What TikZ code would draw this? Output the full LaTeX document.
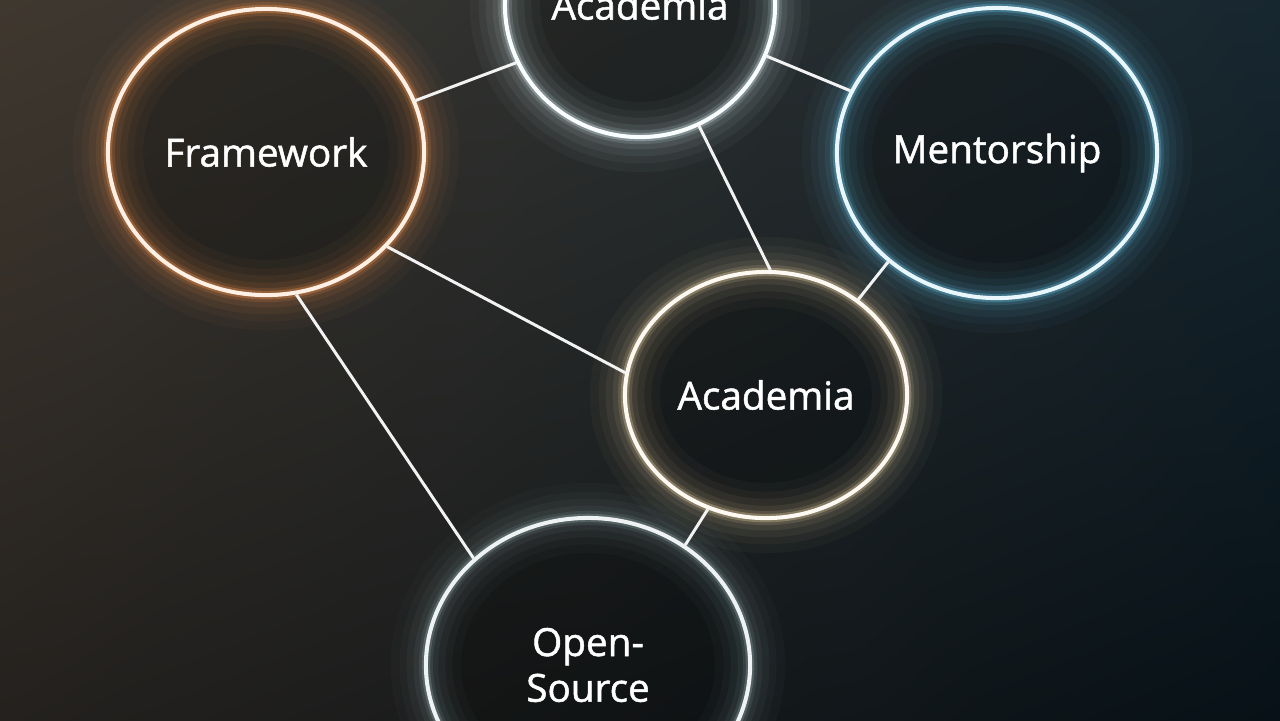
\documentclass[tikz,border=0pt]{standalone}
\usepackage{fontspec}
\setmainfont{Open Sans}
\newfontfamily\labelfont{Open Sans}[FakeBold=1.3]
\usetikzlibrary{shapes.geometric,shadings}

\definecolor{bgUL}{HTML}{40382F}
\definecolor{bgUR}{HTML}{172730}
\definecolor{bgLL}{HTML}{24211E}
\definecolor{bgLR}{HTML}{071117}
\definecolor{fwglow}{HTML}{FF9A52}
\definecolor{topglow}{HTML}{DDF2F5}
\definecolor{mentglow}{HTML}{6CC8EC}
\definecolor{midglow}{HTML}{F0D6A8}
\definecolor{osglow}{HTML}{8FA8AA}

\begin{document}
\begin{tikzpicture}
      [x=0.01cm, y=-0.01cm,
      glow/.style={preaction={fill=black, fill opacity=0.22},
        preaction={draw=#1, draw opacity=0.035, line width=20pt},
        preaction={draw=#1, draw opacity=0.045, line width=15pt},
        preaction={draw=#1, draw opacity=0.06, line width=11pt},
        preaction={draw=#1, draw opacity=0.08, line width=7pt},
        preaction={draw=#1, draw opacity=0.14, line width=4pt},
        preaction={draw=#1, draw opacity=0.3, line width=2.4pt},
        draw=#1!15!white},
      bubble/.style={ellipse, line width=1.15pt, text=white, inner sep=0pt,
        align=center, font=\labelfont\fontsize{11pt}{13pt}\selectfont},
      link/.style={draw=white!90!gray, line width=0.85pt}]

      \useasboundingbox (0,0) rectangle (1280,720);
      \clip (0,0) rectangle (1280,720);
      \shade[upper left=bgUL, upper right=bgUR, lower left=bgLL, lower right=bgLR]
        (0,0) rectangle (1280,720);

      \node[bubble, glow=fwglow, minimum width=3.16cm, minimum height=2.86cm] (fw) at (266,152) {Framework};
      \node[bubble, glow=topglow, minimum width=2.70cm, minimum height=2.64cm] (acTop) at (640,5) {Academia};
      \node[bubble, glow=mentglow, minimum width=3.20cm, minimum height=2.90cm] (ment) at (997,153) {Mentorship};
      \node[bubble, glow=midglow, minimum width=2.82cm, minimum height=2.46cm] (acMid) at (766,395) {Academia};
      \node[bubble, glow=osglow, minimum width=3.24cm, minimum height=2.94cm] (os) at (588,665) {Open-\\Source};

      \draw[link] (fw.19) -- (acTop.205);
      \draw[link] (acTop.-22) -- (ment.157);
      \draw[link] (acTop.-64) -- (acMid.88);
      \draw[link] (ment.225) -- (acMid.46);
      \draw[link] (fw.-38) -- (acMid.171);
      \draw[link] (fw.-78) -- (os.137);
      \draw[link] (acMid.243) -- (os.51);
    \end{tikzpicture}
\end{document}
